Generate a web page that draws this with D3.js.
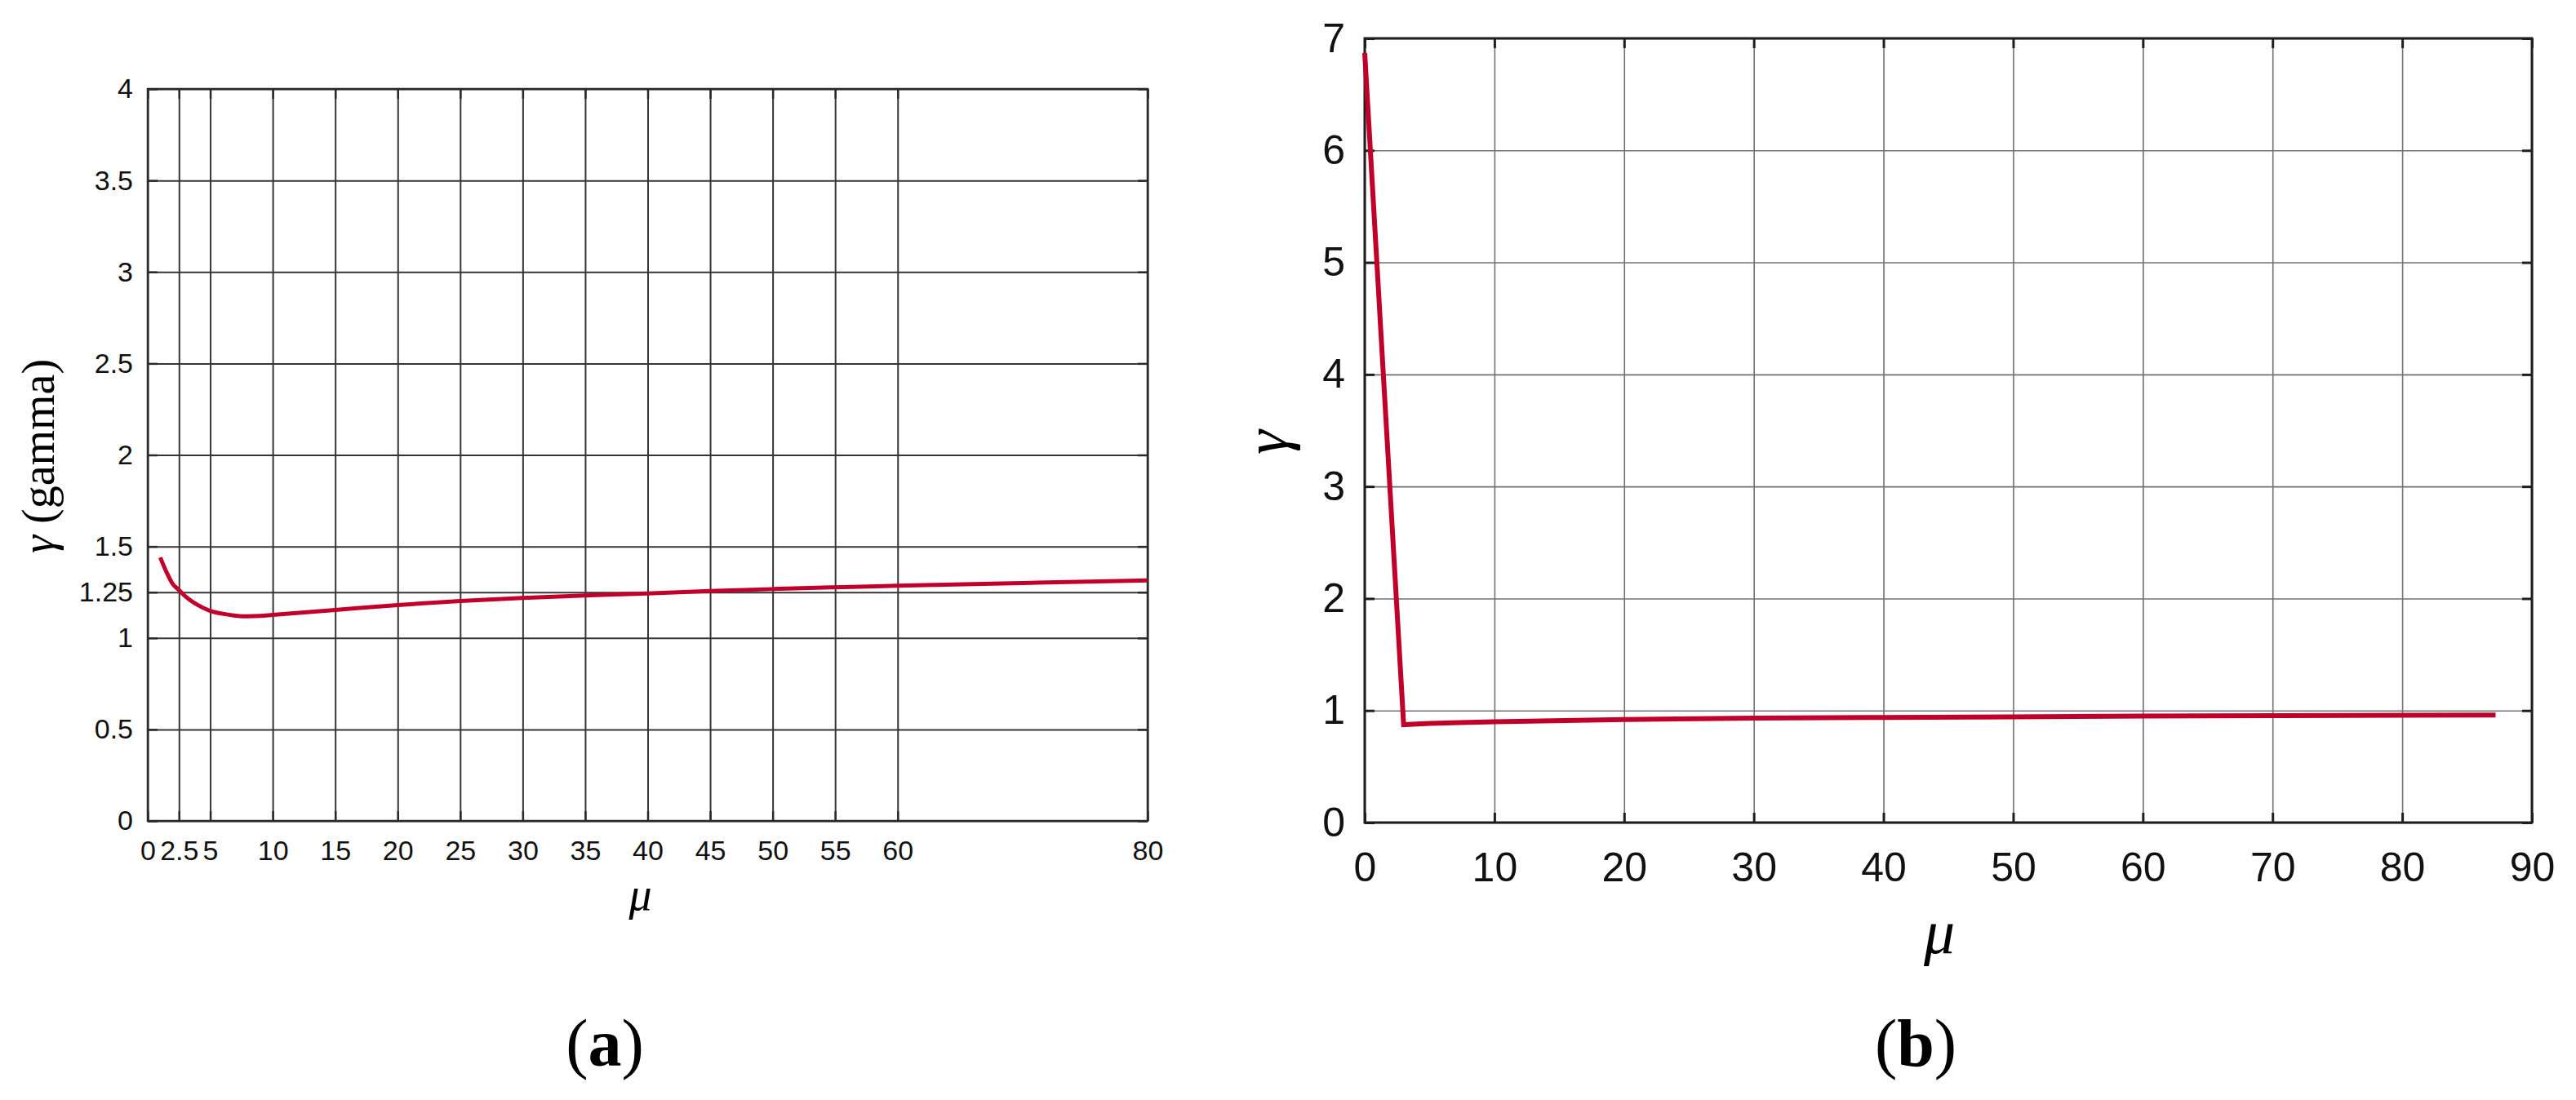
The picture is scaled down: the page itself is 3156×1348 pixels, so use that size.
<!DOCTYPE html>
<html>
<head>
<meta charset="utf-8">
<script src="https://cdn.jsdelivr.net/npm/d3@7"></script>
<style>
  body { margin: 0; background: #fff; }
  svg { display: block; background: #fff; }
</style>
</head>
<body>
<svg id="chart" width="3156" height="1348"></svg>
<script>
// panel (a): smooth gamma(mu) curve
const muA = [1, 1.5, 2, 2.5, 3, 4, 5, 6, 7, 8, 9, 10, 15, 20, 25, 30, 35, 40, 45, 50, 55, 60, 70, 80];
const gammaA = [1.44, 1.36, 1.295, 1.262, 1.228, 1.18, 1.148, 1.132, 1.122, 1.118, 1.12, 1.126, 1.153, 1.18, 1.202, 1.219, 1.232, 1.243, 1.256, 1.267, 1.277, 1.285, 1.3, 1.314];
const xTicksA = [0, 2.5, 5, 10, 15, 20, 25, 30, 35, 40, 45, 50, 55, 60, 80];
const yTicksA = [0, 0.5, 1, 1.25, 1.5, 2, 2.5, 3, 3.5, 4];

// panel (b): sharp drop then nearly flat
const muB = [0, 3, 5, 10, 20, 30, 40, 50, 60, 70, 80, 87.2];
const gammaB = [6.87, 0.874, 0.885, 0.9, 0.92, 0.932, 0.938, 0.944, 0.95, 0.954, 0.957, 0.959];
const xTicksB = [0, 10, 20, 30, 40, 50, 60, 70, 80, 90];
const yTicksB = [0, 1, 2, 3, 4, 5, 6, 7];

const RED = "#c0002b";
const SANS = "'Liberation Sans', Arial, sans-serif";
const SERIF = "'Liberation Serif', 'Times New Roman', serif";

const svg = d3.select("#chart");

function drawPanel(cfg) {
  const x = d3.scaleLinear().domain(cfg.xDomain).range([cfg.left, cfg.right]);
  const y = d3.scaleLinear().domain(cfg.yDomain).range([cfg.bottom, cfg.top]);
  const w = cfg.right - cfg.left;
  const h = cfg.bottom - cfg.top;
  const g = svg.append("g").attr("class", "panel");

  // grid lines
  g.append("g")
    .attr("transform", `translate(0,${cfg.bottom})`)
    .call(d3.axisBottom(x).tickValues(cfg.xTicks).tickSize(-h).tickFormat(""))
    .call(s => s.select(".domain").remove())
    .selectAll("line")
    .attr("stroke", cfg.gridColor)
    .attr("stroke-width", cfg.gridWidth);

  g.append("g")
    .attr("transform", `translate(${cfg.left},0)`)
    .call(d3.axisLeft(y).tickValues(cfg.yTicks).tickSize(-w).tickFormat(""))
    .call(s => s.select(".domain").remove())
    .selectAll("line")
    .attr("stroke", cfg.gridColor)
    .attr("stroke-width", cfg.gridWidth);

  // inward ticks on all four sides, labels on bottom and left
  const axes = [
    [d3.axisBottom(x).tickValues(cfg.xTicks).tickPadding(cfg.xPad), `translate(0,${cfg.bottom})`, true],
    [d3.axisLeft(y).tickValues(cfg.yTicks).tickPadding(cfg.yPad), `translate(${cfg.left},0)`, true],
    [d3.axisTop(x).tickValues(cfg.xTicks).tickFormat(""), `translate(0,${cfg.top})`, false],
    [d3.axisRight(y).tickValues(cfg.yTicks).tickFormat(""), `translate(${cfg.right},0)`, false]
  ];
  axes.forEach(([axis, tr, labelled]) => {
    const a = g.append("g")
      .attr("transform", tr)
      .call(labelled ? axis.tickSize(-cfg.tickLen).tickSizeOuter(0).tickFormat(d => String(d))
                     : axis.tickSize(-cfg.tickLen).tickSizeOuter(0));
    a.select(".domain").remove();
    a.selectAll("line").attr("stroke", cfg.axisColor).attr("stroke-width", cfg.axisWidth);
    a.attr("font-family", SANS).attr("font-size", cfg.tickFont);
    a.selectAll("text").attr("fill", "#111");
  });

  // box
  g.append("rect")
    .attr("x", cfg.left)
    .attr("y", cfg.top)
    .attr("width", w)
    .attr("height", h)
    .attr("fill", "none")
    .attr("stroke", cfg.axisColor)
    .attr("stroke-width", cfg.axisWidth);

  // series
  const line = d3.line()
    .x(d => x(d[0]))
    .y(d => y(d[1]))
    .curve(cfg.curve);

  g.append("path")
    .datum(d3.zip(cfg.mu, cfg.gamma))
    .attr("d", line)
    .attr("fill", "none")
    .attr("stroke", RED)
    .attr("stroke-width", cfg.lineWidth)
    .attr("stroke-linejoin", "miter");

  // axis titles
  g.append("text")
    .attr("x", (cfg.left + cfg.right) / 2 + cfg.muDx)
    .attr("y", cfg.muY)
    .attr("text-anchor", "middle")
    .attr("font-family", SERIF)
    .attr("font-style", "italic")
    .attr("font-size", cfg.labelFont)
    .text("μ");

  const yl = g.append("text")
    .attr("transform", `translate(${cfg.yLabelX},${cfg.yLabelY}) rotate(-90)`)
    .attr("text-anchor", "middle")
    .attr("font-family", SERIF)
    .attr("font-size", cfg.labelFont);
  yl.append("tspan").attr("font-style", "italic").text("γ");
  if (cfg.yLabelRest) yl.append("tspan").text(cfg.yLabelRest);

  // panel caption
  g.append("text")
    .attr("x", cfg.capX)
    .attr("y", 1306)
    .attr("text-anchor", "middle")
    .attr("font-family", SERIF)
    .attr("font-size", 82)
    .call(t => {
      t.append("tspan").text("(");
      t.append("tspan").attr("font-weight", "bold").text(cfg.caption);
      t.append("tspan").text(")");
    });
}

drawPanel({
  mu: muA, gamma: gammaA, xTicks: xTicksA, yTicks: yTicksA,
  xDomain: [0, 80], yDomain: [0, 4],
  left: 181, right: 1406, top: 109, bottom: 1006,
  gridColor: "#353535", gridWidth: 2,
  axisColor: "#2a2a2a", axisWidth: 2.5, tickLen: 12,
  tickFont: 34, xPad: 24, yPad: 18,
  lineWidth: 5, curve: d3.curveMonotoneX,
  labelFont: 56, muDx: -9, muY: 1115,
  yLabelX: 66, yLabelY: 559, yLabelRest: "  (gamma)",
  capX: 741, caption: "a"
});

drawPanel({
  mu: muB, gamma: gammaB, xTicks: xTicksB, yTicks: yTicksB,
  xDomain: [0, 90], yDomain: [0, 7],
  left: 1672, right: 3102, top: 47, bottom: 1008,
  gridColor: "#707070", gridWidth: 1.6,
  axisColor: "#1e1e1e", axisWidth: 3, tickLen: 12,
  tickFont: 50, xPad: 36, yPad: 24,
  lineWidth: 6, curve: d3.curveLinear,
  labelFont: 76, muDx: -11, muY: 1168,
  yLabelX: 1577, yLabelY: 542, yLabelRest: null,
  capX: 2347, caption: "b"
});
</script>
</body>
</html>
